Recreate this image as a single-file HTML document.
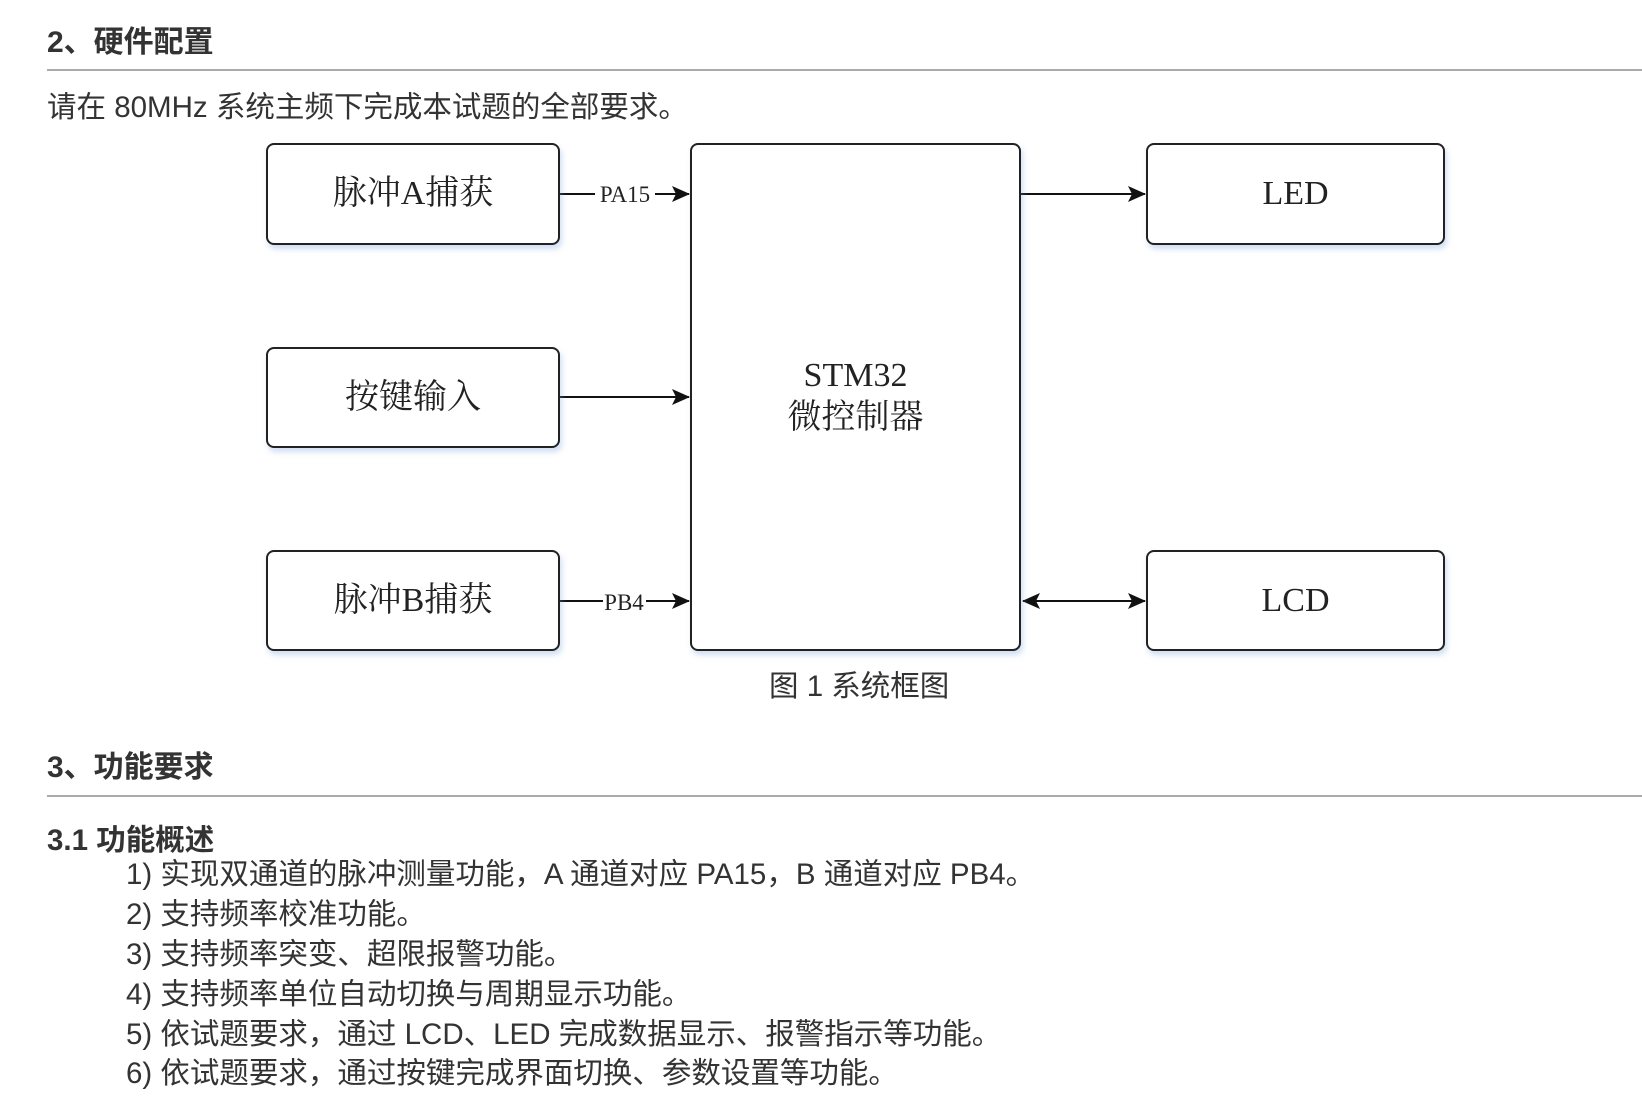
<!DOCTYPE html>
<html><head><meta charset="utf-8"><style>
html,body{margin:0;padding:0;background:#fff;}
body{width:1642px;height:1102px;position:relative;overflow:hidden;font-family:"Liberation Sans","Noto Sans CJK SC",sans-serif;color:#333;}
.a{position:absolute;white-space:nowrap;}
h2{margin:0;font-size:30px;font-weight:bold;}
.hr{position:absolute;left:47px;right:0;height:2px;background:#aaa;}
.t{font-size:29.5px;line-height:40px;}
.box{position:absolute;border:2px solid #222;border-radius:8px;background:#fff;box-shadow:2px 4px 6px rgba(120,160,220,0.35);display:flex;align-items:center;justify-content:center;font-family:"Liberation Serif","Noto Serif CJK SC",serif;font-size:34px;color:#222;text-align:center;line-height:42px;}
</style></head><body>
<h2 class="a" style="left:47px;top:17px;">2、硬件配置</h2>
<div class="hr" style="top:69px;"></div>
<div class="a t" style="left:47px;top:88px;">请在 80MHz 系统主频下完成本试题的全部要求。</div>

<svg class="a" style="left:0;top:0" width="1642" height="700">
<defs><marker id="ar" markerWidth="18" markerHeight="16" refX="17" refY="8" orient="auto" markerUnits="userSpaceOnUse"><path d="M0,0 L18,8 L0,16 L4,8 Z" fill="#111"/></marker>
<marker id="al" markerWidth="18" markerHeight="16" refX="1" refY="8" orient="auto" markerUnits="userSpaceOnUse"><path d="M18,0 L0,8 L18,16 L14,8 Z" fill="#111"/></marker></defs>
<g stroke="#111" stroke-width="2">
<line x1="560" y1="194" x2="595" y2="194"/>
<line x1="655" y1="194" x2="689" y2="194" marker-end="url(#ar)"/>
<line x1="560" y1="397" x2="689" y2="397" marker-end="url(#ar)"/>
<line x1="560" y1="601" x2="603" y2="601"/>
<line x1="646" y1="601" x2="689" y2="601" marker-end="url(#ar)"/>
<line x1="1021" y1="194" x2="1145" y2="194" marker-end="url(#ar)"/>
<line x1="1023" y1="601" x2="1145" y2="601" marker-start="url(#al)" marker-end="url(#ar)"/>
</g>
<text x="625" y="202" font-family="Liberation Serif,serif" font-size="23" text-anchor="middle" fill="#222">PA15</text>
<text x="624" y="610" font-family="Liberation Serif,serif" font-size="23" text-anchor="middle" fill="#222">PB4</text>
</svg>

<div class="box" style="left:266px;top:143px;width:290px;height:98px;">脉冲A捕获</div>
<div class="box" style="left:266px;top:347px;width:290px;height:97px;">按键输入</div>
<div class="box" style="left:266px;top:550px;width:290px;height:97px;">脉冲B捕获</div>
<div class="box" style="left:690px;top:143px;width:327px;height:504px;">STM32<br>微控制器</div>
<div class="box" style="left:1146px;top:143px;width:295px;height:98px;">LED</div>
<div class="box" style="left:1146px;top:550px;width:295px;height:97px;">LCD</div>

<div class="a t" style="left:769px;top:667px;">图 1 系统框图</div>

<h2 class="a" style="left:47px;top:742px;">3、功能要求</h2>
<div class="hr" style="top:795px;"></div>
<div class="a" style="left:47px;top:817px;font-size:29.5px;font-weight:bold;">3.1 功能概述</div>
<div class="a t" style="left:126px;top:855px;">1) 实现双通道的脉冲测量功能，A 通道对应 PA15，B 通道对应 PB4。</div>
<div class="a t" style="left:126px;top:895px;">2) 支持频率校准功能。</div>
<div class="a t" style="left:126px;top:935px;">3) 支持频率突变、超限报警功能。</div>
<div class="a t" style="left:126px;top:975px;">4) 支持频率单位自动切换与周期显示功能。</div>
<div class="a t" style="left:126px;top:1015px;">5) 依试题要求，通过 LCD、LED 完成数据显示、报警指示等功能。</div>
<div class="a t" style="left:126px;top:1054px;">6) 依试题要求，通过按键完成界面切换、参数设置等功能。</div>
</body></html>
